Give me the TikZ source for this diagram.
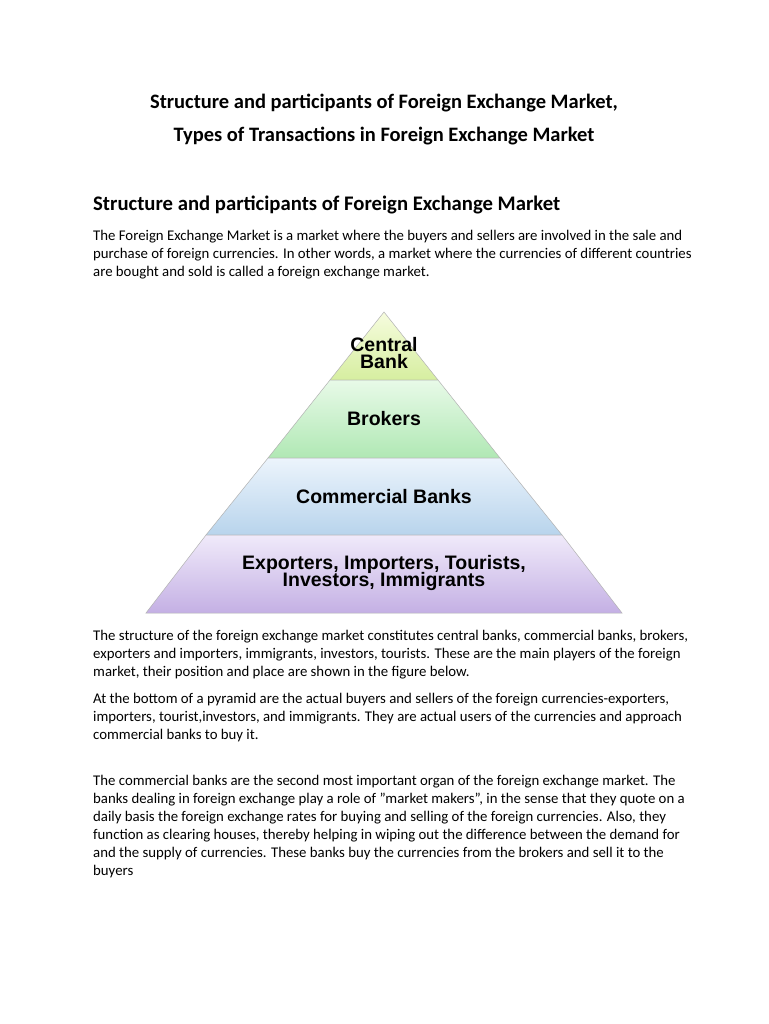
\documentclass[tikz,border=0pt]{standalone}
\usepackage{fontspec}
\setmainfont{Carlito}
\newfontfamily\pyrfont{Liberation Sans}
\definecolor{ytop}{RGB}{246,252,222}\definecolor{ybot}{RGB}{214,238,160}
\definecolor{gtop}{RGB}{232,250,232}\definecolor{gbot}{RGB}{176,232,180}
\definecolor{btop}{RGB}{236,244,252}\definecolor{bbot}{RGB}{184,212,236}
\definecolor{ptop}{RGB}{240,234,250}\definecolor{pbot}{RGB}{196,176,228}
\begin{document}
\begin{tikzpicture}[x=1pt,y=-1pt,
  ln/.style={anchor=west,inner sep=0pt,font=\fontsize{14.8}{16}\selectfont},
  ttl/.style={anchor=center,inner sep=0pt,font=\fontsize{20.5}{22}\selectfont\bfseries},
  hd/.style={anchor=west,inner sep=0pt,font=\fontsize{20.7}{22}\selectfont\bfseries},
  pl/.style={inner sep=0pt,align=center,font=\pyrfont\fontsize{19.5}{19}\selectfont\bfseries},
  band/.style={draw=black!30,line width=0.5pt}]
\useasboundingbox (0,0) rectangle (768,1024);
\fill[white] (0,0) rectangle (768,1024);
\node[ttl] (t1) at (384,103) {Structure and participants of Foreign Exchange Market,};
\node[ttl] (t2) at (384,136) {Types of Transactions in Foreign Exchange Market};
\node[hd] (h1) at (93,205) {Structure and participants of Foreign Exchange Market};
\node[ln] (a1) at (93,237) {The Foreign Exchange Market is a market where the buyers and sellers are involved in the sale and};
\node[ln] (a2) at (93,255) {purchase of foreign currencies. In other words, a market where the currencies of different countries};
\node[ln] (a3) at (93,273) {are bought and sold is called a foreign exchange market.};
% pyramid
\shadedraw[band,top color=ytop,bottom color=ybot] (384,312) -- (438,380) -- (330,380) -- cycle;
\shadedraw[band,top color=gtop,bottom color=gbot] (330,380) -- (438,380) -- (500,458) -- (268,458) -- cycle;
\shadedraw[band,top color=btop,bottom color=bbot] (268,458) -- (500,458) -- (562,535) -- (206,535) -- cycle;
\shadedraw[band,top color=ptop,bottom color=pbot] (206,535) -- (562,535) -- (622,613) -- (146,613) -- cycle;
\node[pl] (p1) at (384,353) {Central\\[-2pt]Bank};
\node[pl] (p2) at (384,419) {Brokers};
\node[pl] (p3) at (384,497) {Commercial Banks};
\node[pl] (p4) at (384,573) {Exporters, Importers, Tourists,\\[-2pt]Investors, Immigrants};
\node[ln] (b1) at (93,637) {The structure of the foreign exchange market constitutes central banks, commercial banks, brokers,};
\node[ln] (b2) at (93,655) {exporters and importers, immigrants, investors, tourists. These are the main players of the foreign};
\node[ln] (b3) at (93,673) {market, their position and place are shown in the figure below.};
\node[ln] (c1) at (93,700) {At the bottom of a pyramid are the actual buyers and sellers of the foreign currencies-exporters,};
\node[ln] (c2) at (93,718) {importers, tourist,investors, and immigrants. They are actual users of the currencies and approach};
\node[ln] (c3) at (93,736) {commercial banks to buy it.};
\node[ln] (d1) at (93,782) {The commercial banks are the second most important organ of the foreign exchange market. The};
\node[ln] (d2) at (93,800) {banks dealing in foreign exchange play a role of \symbol{34}market makers\symbol{34}, in the sense that they quote on a};
\node[ln] (d3) at (93,818) {daily basis the foreign exchange rates for buying and selling of the foreign currencies. Also, they};
\node[ln] (d4) at (93,836) {function as clearing houses, thereby helping in wiping out the difference between the demand for};
\node[ln] (d5) at (93,854) {and the supply of currencies. These banks buy the currencies from the brokers and sell it to the};
\node[ln] (d6) at (93,872) {buyers};
\end{tikzpicture}
\end{document}
